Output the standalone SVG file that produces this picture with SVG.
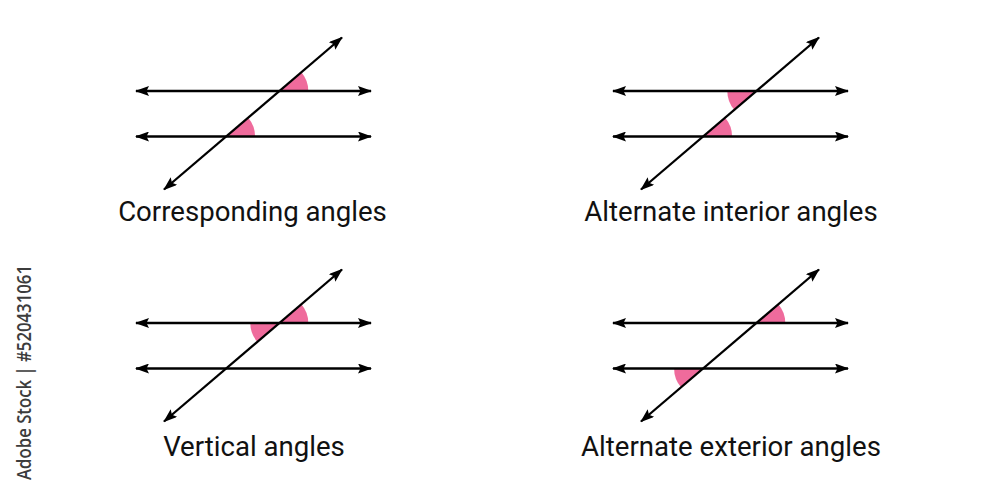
<svg xmlns="http://www.w3.org/2000/svg" width="1000" height="500" viewBox="0 0 1000 500">
  <style>
    .ln { stroke: #000; stroke-width: 2.3; fill: none; marker-start: url(#ah); marker-end: url(#ah); }
    .ang { fill: #EF6B9C; stroke: none; }
    .lbl { font-family: Roboto, "Liberation Sans", sans-serif; font-size: 27.6px; fill: #111; text-anchor: middle; }
  </style>
  <defs>
    <marker id="ah" viewBox="0 0 14 10" refX="13" refY="5" markerWidth="14" markerHeight="10" markerUnits="userSpaceOnUse" orient="auto-start-reverse">
      <path d="M0,0 L14,5 L0,10 L2.5,5 Z" fill="#000"/>
    </marker>
    <path id="ur1" d="M279.3,91 L308.3,91 A29 29 0 0 0 301.35,72.17 Z"/>
    <path id="dl1" d="M279.3,91 L250.3,91 A29 29 0 0 0 257.25,109.83 Z"/>
    <path id="ur2" d="M226.1,136.5 L255.1,136.5 A29 29 0 0 0 248.15,117.67 Z"/>
    <path id="dl2" d="M226.1,136.5 L197.1,136.5 A29 29 0 0 0 204.05,155.33 Z"/>
    <g id="lines">
      <line class="ln" x1="136" y1="91" x2="371" y2="91"/>
      <line class="ln" x1="136" y1="136.5" x2="371" y2="136.5"/>
      <line class="ln" x1="164" y1="189.5" x2="342" y2="37.5"/>
    </g>
  </defs>

  <g id="corresponding">
    <use href="#ur1" class="ang"/>
    <use href="#ur2" class="ang"/>
    <use href="#lines"/>
    <text class="lbl" x="252.5" y="220.5">Corresponding angles</text>
  </g>

  <g id="alternate-interior" transform="translate(477,0)">
    <use href="#dl1" class="ang"/>
    <use href="#ur2" class="ang"/>
    <use href="#lines"/>
    <text class="lbl" x="254" y="220.5">Alternate interior angles</text>
  </g>

  <g id="vertical" transform="translate(0,232)">
    <use href="#ur1" class="ang"/>
    <use href="#dl1" class="ang"/>
    <use href="#lines"/>
    <text class="lbl" x="254" y="224">Vertical angles</text>
  </g>

  <g id="alternate-exterior" transform="translate(477,232)">
    <use href="#ur1" class="ang"/>
    <use href="#dl2" class="ang"/>
    <use href="#lines"/>
    <text class="lbl" x="254" y="224">Alternate exterior angles</text>
  </g>

  <text id="credit" transform="translate(31,372.5) rotate(-90)" text-anchor="middle" font-family="'Open Sans', 'DejaVu Sans', sans-serif" font-size="19" font-weight="600" fill="#3c3c3c" textLength="215" lengthAdjust="spacingAndGlyphs">Adobe Stock | #520431061</text>
</svg>
